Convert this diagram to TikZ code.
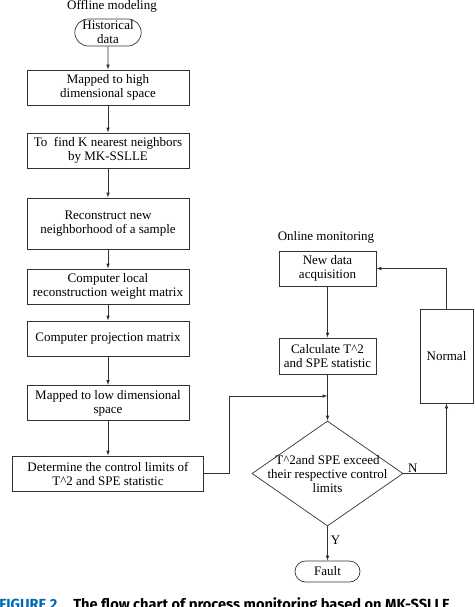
\documentclass[tikz,border=0pt]{standalone}
\usepackage{fontspec}
\setmainfont{Liberation Serif}
\newfontfamily\capfont{Fira Sans}
\usetikzlibrary{positioning,shapes.geometric,shapes.misc,arrows.meta}

\definecolor{figblue}{RGB}{0,104,178}
\definecolor{linegray}{RGB}{50,50,50}

\tikzset{
  proc/.style={draw=linegray,rectangle,align=center,inner sep=1pt,
    minimum width=162pt,minimum height=35pt},
  term/.style={draw=linegray,rounded rectangle,align=center,inner sep=1pt},
  decide/.style={draw=linegray,diamond,inner sep=0pt,
    minimum width=151pt,minimum height=105pt},
  ttl/.style={anchor=base,inner sep=0pt}
}

\begin{document}
\begin{tikzpicture}[x=1pt,y=-1pt,on grid,auto,>={Latex[length=5pt,width=3.5pt]},
    line width=0.7pt,font=\fontsize{13}{14}\selectfont]
   \useasboundingbox (0,0) rectangle (474,607);
   % offline modeling
   \node[ttl] (offttl) at (112,9.5) {Offline modeling};
   \node[term,minimum width=66pt,minimum height=27pt] (hist) at (108,32.5) {Historical\\data};
   \node[proc] (himap)  [below=55pt of hist]  {Mapped to high\\dimensional space};
   \node[proc] (knn)    [below=63pt of himap] {To\ \ find K nearest neighbors\\by MK-SSLLE};
   \node[proc,minimum height=51pt] (recon) [below=73pt of knn] {Reconstruct new\\neighborhood of a sample};
   \node[proc] (weight) [below=63pt of recon] {Computer local\\reconstruction weight matrix};
   \node[proc] (proj)   [below=52pt of weight] {Computer projection matrix};
   \node[proc] (lomap)  [below=64.5pt of proj] {Mapped to low dimensional\\space};
   \node[proc,minimum width=191pt] (limits) [below=70.5pt of lomap] {Determine the control limits of\\T\^{}2 and SPE statistic};
   % online monitoring
   \node[ttl] (onttl) at (326,240) {Online monitoring};
   \node[proc,minimum width=97pt] (newdata) at (327.5,268.5) {New data\\acquisition};
   \node[proc,minimum width=97pt,minimum height=36pt] (calc) [below=87.5pt of newdata] {Calculate T\^{}2\\and SPE statistic};
   \node[proc,minimum width=53pt,minimum height=94pt] (normal) [right=119pt of calc] {Normal};
   \node[decide,label={[align=center,yshift=-1pt]center:T\^{}2and SPE exceed\\their respective control\\limits}] (dia) [below=117.5pt of calc] {};
   \node[term,minimum width=67pt,minimum height=21pt] (fault) [below=98pt of dia] {Fault};
   \coordinate (join) at (calc |- 0,396);
   % caption
   \node[anchor=base west,inner sep=0pt,font=\capfont\bfseries\fontsize{14.6}{15}\selectfont,text=figblue] (fignum) at (-1,609) {FIGURE 2};
   \node[anchor=base west,inner sep=0pt,font=\capfont\bfseries\fontsize{14.6}{15}\selectfont] (figcap) at (73,609) {The flow chart of process monitoring based on MK-SSLLE};
   % connectors
   \path[->,draw=linegray]
        (hist) edge (himap)
        (himap) edge (knn)
        (knn) edge (recon)
        (recon) edge (weight)
        (weight) edge (proj)
        (proj) edge (lomap)
        (lomap) edge (limits)
        (newdata) edge (calc)
        (calc) edge (dia)
        (dia) edge node[pos=0.4,inner sep=3pt] {Y} (fault)
        ;
   \draw[->,linegray] (limits.east) -- ++(25,0) |- (join);
   \draw[->,linegray] (dia.east) -| node[pos=0.04,anchor=south west,inner sep=1pt,text=black] {N} (normal.south);
   \draw[->,linegray] (normal.north) |- (newdata.east);
\end{tikzpicture}
\end{document}
